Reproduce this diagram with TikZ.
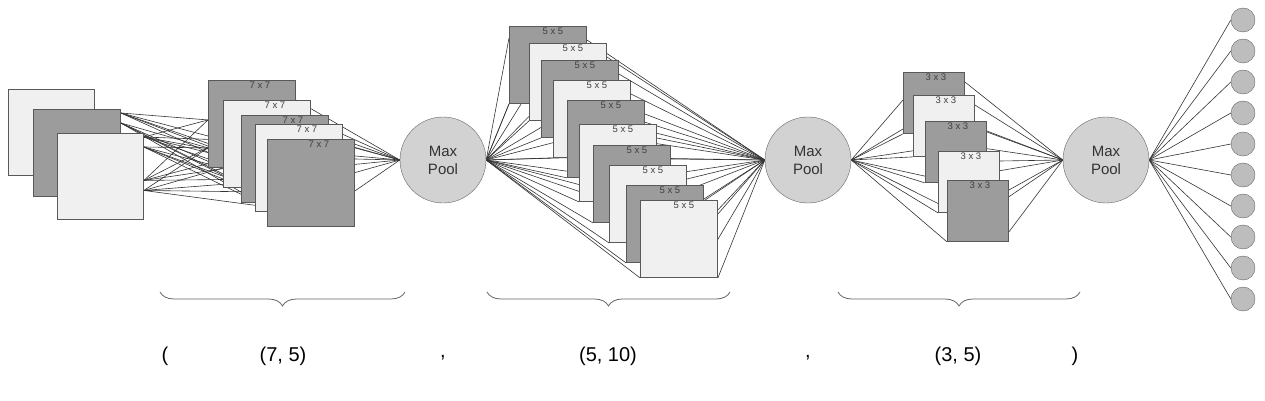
\documentclass[tikz,border=0pt]{standalone}
\usepackage{fontspec}
\setmainfont{Liberation Sans}
\usetikzlibrary{backgrounds,decorations.pathreplacing}
\definecolor{dk}{HTML}{9C9C9C}
\definecolor{lt}{HTML}{F0F0F0}
\definecolor{pl}{HTML}{D2D2D2}
\definecolor{oc}{HTML}{BDBDBD}
\begin{document}
\begin{tikzpicture}[x=1pt,y=-1pt,
 map/.style={draw=black!65,line width=0.9pt,anchor=north west,inner sep=0pt,minimum width=#1,minimum height=#1},
 lab/.style={font=\fontsize{9.5}{9.5}\selectfont,text=black!75,inner sep=1.5pt},
 pool/.style={circle,draw=black!60,fill=pl,minimum size=86pt,inner sep=0pt,font=\fontsize{15}{18}\selectfont,text=black!80,align=center},
 onode/.style={circle,draw=black!60,fill=oc,minimum size=24pt,inner sep=0pt},
 ln/.style={draw=black!80,line width=0.6pt},
 br/.style={draw=black!60,line width=0.8pt,decorate,decoration={brace,amplitude=14pt}},
 txt/.style={font=\fontsize{20}{22}\selectfont}]
\useasboundingbox (0,0) rectangle (1265,401);
% inputs
\node[map=86pt,fill=lt] (i1) at (8,89) {};
\node[map=87pt,fill=dk] (i2) at (33,109) {};
\node[map=86pt,fill=lt] (i3) at (57,133) {};
% 7x7
\foreach \n/\x/\y/\c in {1/208/80/dk,2/223/100/lt,3/241/115/dk,4/255/124/lt,5/267/139/dk}{
  \node[map=87pt,fill=\c] (a\n) at (\x,\y) {};
  \node[lab,anchor=north] at ([xshift=8pt]a\n.north) {7 x 7};
}
\node[pool] (p1) at (443,160) {Max\\Pool};
% 5x5
\foreach \n/\x/\y/\c in {1/509/26/dk,2/529/43/lt,3/541/60/dk,4/553/80/lt,5/567/100/dk,6/579/124/lt,7/593/145/dk,8/609/165/lt,9/626/185/dk,10/640/200/lt}{
  \node[map=77pt,fill=\c] (b\n) at (\x,\y) {};
  \node[lab,anchor=north] at ([xshift=5pt]b\n.north) {5 x 5};
}
\node[pool] (p2) at (808,160) {Max\\Pool};
% 3x3
\foreach \n/\x/\y/\c in {1/903/72/dk,2/913/95/lt,3/925/121/dk,4/938/151/lt,5/947/180/dk}{
  \node[map=61pt,fill=\c] (c\n) at (\x,\y) {};
  \node[lab,anchor=north] at ([xshift=2pt]c\n.north) {3 x 3};
}
\node[pool] (p3) at (1106,160) {Max\\Pool};
\foreach \k in {1,...,10}{
  \node[onode] (o\k) at (1243,{20+31*(\k-1)}) {};
}
\begin{scope}[on background layer]
 \foreach \n in {1,...,5}{
   \foreach \s in {i2.north east,i3.north east,i3.east}{
     \draw[ln] ([yshift=-4pt]\s) -- ([yshift=4pt]a\n.west);
     \draw[ln] ([yshift=-14pt]\s) -- ([yshift=20pt]a\n.south west);
   }
   \draw[ln] ([yshift=-20pt]a\n.north east) -- (p1.west);
   \draw[ln] ([yshift=-8pt]a\n.east) -- (p1.west);
 }
 \foreach \n in {1,...,10}{
   \draw[ln] (p1.east) -- ([yshift=-12pt]b\n.north west);
   \draw[ln] (p1.east) -- (b\n.south west);
   \draw[ln] ([yshift=-14pt]b\n.north east) -- (p2.west);
   \draw[ln] (b\n.south east) -- (p2.west);
 }
 \foreach \n in {1,...,5}{
   \draw[ln] (p2.east) -- ([yshift=-28pt]c\n.north west);
   \draw[ln] (p2.east) -- (c\n.south west);
   \draw[ln] ([yshift=-10pt]c\n.north east) -- (p3.west);
   \draw[ln] ([yshift=10pt]c\n.south east) -- (p3.west);
 }
 \foreach \k in {1,...,10}{ \draw[ln] (p3.east) -- (o\k.west); }
\end{scope}
% braces
\coordinate (ba) at (160,292); \coordinate (bb) at (405,292);
\coordinate (bc) at (487,292); \coordinate (bd) at (730,292);
\coordinate (be) at (838,292); \coordinate (bf) at (1080,292);
\draw[br] (bb) -- (ba);
\draw[br] (bd) -- (bc);
\draw[br] (bf) -- (be);
\node[txt] (t0) at (165,356) {(};
\node[txt] (t1) at (283,356) {(7, 5)};
\node[txt] (t2) at (443,358) {,};
\node[txt] (t3) at (608,356) {(5, 10)};
\node[txt] (t4) at (808,358) {,};
\node[txt] (t5) at (958,356) {(3, 5)};
\node[txt] (t6) at (1075,356) {)};
\end{tikzpicture}
\end{document}
